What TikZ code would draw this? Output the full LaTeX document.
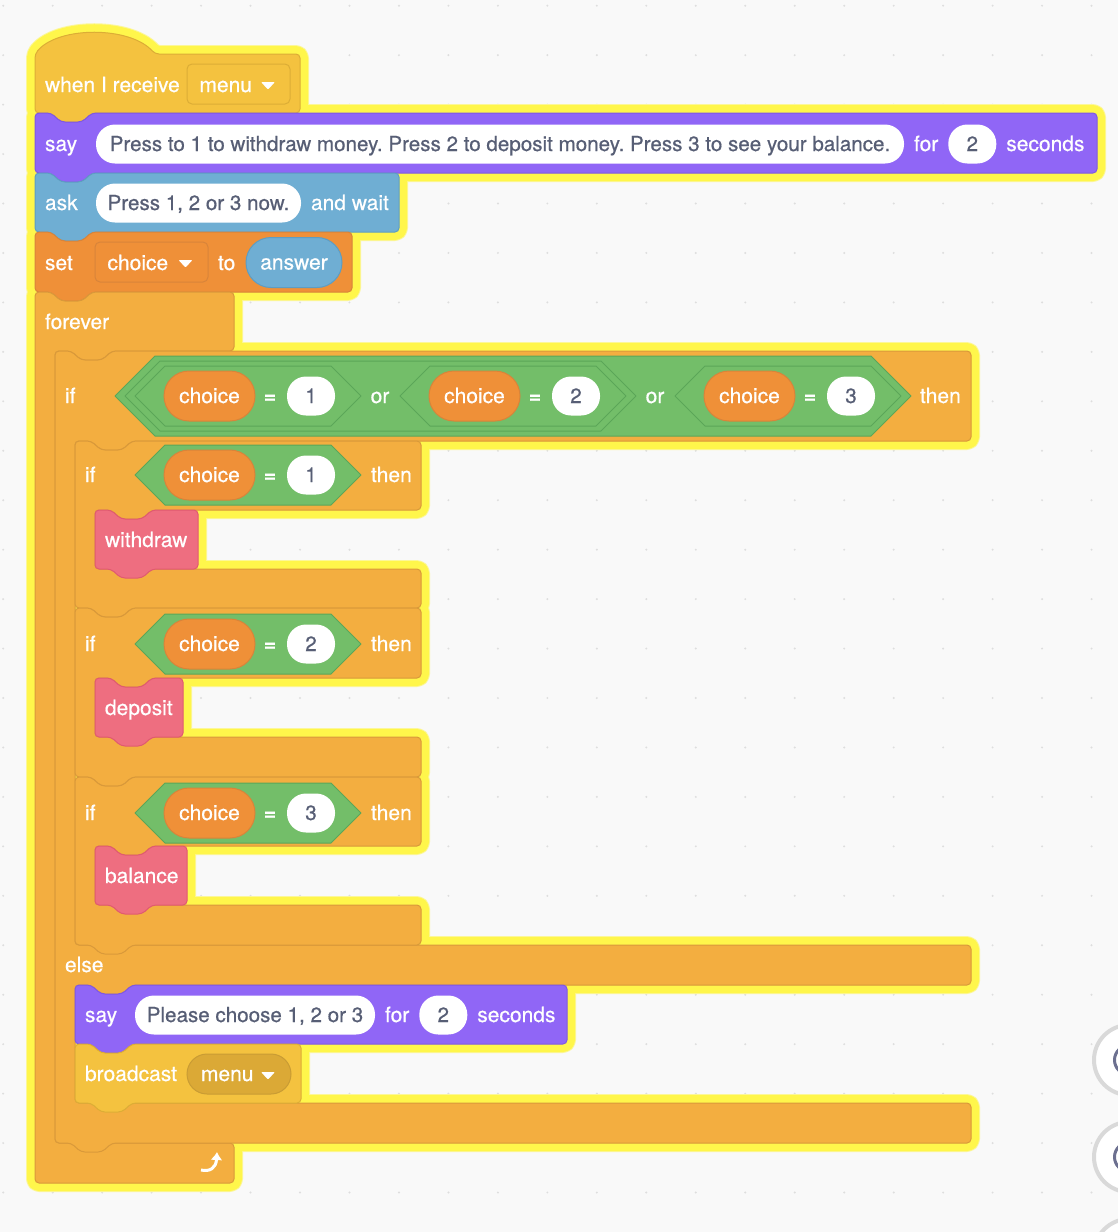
\documentclass[tikz,border=0pt]{standalone}
\usepackage{fontspec}
\setmainfont[FakeBold=0.55]{TeX Gyre Heros}
\frenchspacing
\usetikzlibrary{positioning,arrows.meta}

\definecolor{sheet}{HTML}{F9F9F9}
\definecolor{griddot}{HTML}{DEDEDE}
\definecolor{ringgray}{HTML}{D9D9D9}
\definecolor{ringicon}{HTML}{6C7090}
\definecolor{glow}{HTML}{FFF64B}
\definecolor{inktext}{HTML}{575E75}
\definecolor{hat}{HTML}{F4C23F}
\definecolor{hatline}{HTML}{DCAD36}
\definecolor{looks}{HTML}{9066F6}
\definecolor{looksline}{HTML}{7F58E2}
\definecolor{sensing}{HTML}{6FAED3}
\definecolor{sensingline}{HTML}{5E9DC2}
\definecolor{vars}{HTML}{EF9038}
\definecolor{varsline}{HTML}{D8843A}
\definecolor{control}{HTML}{F3AE40}
\definecolor{controlline}{HTML}{D9993A}
\definecolor{myblock}{HTML}{EE6E80}
\definecolor{myblockline}{HTML}{E05A70}
\definecolor{oper}{HTML}{73BE69}
\definecolor{operline}{HTML}{5BA658}
\definecolor{menupill}{HTML}{DBA936}
\definecolor{menupillline}{HTML}{C99C34}

% Notch on a top edge, tab on a bottom edge
\newcommand{\notchat}[2]{-- ({#1+16},#2) -- ({#1+26},{#2+9}) -- ({#1+47},{#2+9}) -- ({#1+57},#2)}
\newcommand{\tabat}[2]{-- ({#1+57},#2) -- ({#1+47},{#2+9}) -- ({#1+26},{#2+9}) -- ({#1+16},#2)}
\newcommand{\stackpath}[4]{(#1,#2) \notchat{#1}{#2} -- (#3,#2) -- (#3,#4) \tabat{#1}{#4} -- (#1,#4) -- cycle}
\newcommand{\ifpath}[4]{(75,#1) \notchat{75}{#1} -- (421,#1) -- (421,#2) \tabat{95}{#2} -- (95,#2) -- (95,#3) -- (421,#3) -- (421,#4) \tabat{75}{#4} -- (75,#4) -- cycle}

% The whole stack of blocks, drawn once for the glow and once for the faces
\newcommand{\blockstack}{
	\path[blk=hat] (35,113) -- (35,54) .. controls (58,26) and (130,26) .. (155,54) -- (300,54) -- (300,113) \tabat{35}{113} -- cycle;
	\path[blk=looks] \stackpath{35}{113}{1097}{173};
	\path[blk=sensing] \stackpath{35}{173}{399}{232};
	\path[blk=vars] \stackpath{35}{232}{352}{292};
	\path[blk=control] (35,292) \notchat{35}{292} -- (234,292) -- (234,351) \tabat{55}{351} -- (55,351) -- (55,1143) -- (234,1143) -- (234,1183) -- (35,1183) -- cycle;
	\path[blk=control] (55,351) \notchat{55}{351} -- (971,351) -- (971,441) \tabat{75}{441} -- (75,441) -- (75,945) -- (971,945) -- (971,985) \tabat{75}{985} -- (75,985) -- (75,1103) -- (971,1103) -- (971,1143) \tabat{55}{1143} -- (55,1143) -- cycle;
	\path[blk=control] \ifpath{441}{510}{569}{608};
	\path[blk=control] \ifpath{608}{678}{737}{777};
	\path[blk=control] \ifpath{777}{846}{905}{945};
	\path[blk=myblock] \stackpath{95}{510}{198}{569};
	\path[blk=myblock] \stackpath{95}{678}{183}{737};
	\path[blk=myblock] \stackpath{95}{846}{187}{905};
	\path[blk=looks] \stackpath{75}{985}{567}{1044};
	\path[blk=hat] \stackpath{75}{1044}{301}{1103};
}
% Green hexagon: left tip, right tip, centre y, half height
\newcommand{\hexpath}[4]{(#1,#3) -- ({#1+#4},{#3-#4}) -- ({#2-#4},{#3-#4}) -- (#2,#3) -- ({#2-#4},{#3+#4}) -- ({#1+#4},{#3+#4}) -- cycle}
% One choice = n test
\newcommand{\choicetest}[4]{
	\path[condhex] \hexpath{#2}{#2+226}{#3}{30};
	\node[varpill] (#1var) at ({#2+74.5},#3) {choice};
	\node[blocktext,font=\fontsize{21}{24}\selectfont\bfseries] (#1eq) at ({#2+135},#3) {=};
	\node[numpill] (#1num) at ({#2+176},#3) {#4};
}
\newcommand{\dropmark}[2]{\fill[white,rounded corners=1pt] ({#1-7},{#2-3.5}) -- ({#1+7},{#2-3.5}) -- (#1,{#2+4}) -- cycle;}

\begin{document}
\begin{tikzpicture}[x=1pt,y=-1pt]

	% Styles for the blocks and the things on them
	\tikzstyle{blocktext}=[text=white,inner sep=0pt,outer sep=0pt,font=\fontsize{21}{24}\selectfont,text height=18pt,text depth=4pt]
	\tikzstyle{inputpill}=[blocktext,text=inktext,font=\fontsize{20.6}{24}\selectfont,fill=white,minimum height=39pt,rounded corners=19pt]
	\tikzstyle{numpill}=[inputpill,minimum width=48pt]
	\tikzstyle{dropbox}=[draw=hatline,line width=1pt,minimum height=40pt,rounded corners=5pt]
	\tikzstyle{varpill}=[blocktext,fill=vars,draw=varsline,line width=1pt,minimum width=91pt,minimum height=50pt,rounded corners=25pt]
	\tikzstyle{condhex}=[fill=oper,draw=operline,line width=1pt,line join=round]
	\tikzstyle{zoomring}=[circle,fill=white,draw=ringgray,line width=4pt,minimum size=70pt,inner sep=0pt]
	\tikzset{blockshape/.style={rounded corners=4pt,line join=round}}

	\path[use as bounding box,clip] (0,0) rectangle (1118,1232);
	\fill[sheet] (0,0) rectangle (1118,1232);

	% Dots of the workspace
	\foreach \i in {0,...,22}
		\foreach \j in {0,...,24}
			\fill[griddot] ({3.2+49.47*\i},{5.7+49.45*\j}) circle (1.1pt);

	% Zoom buttons, cut off at the edge
	\foreach \y/\name in {1060/zoomin,1157/zoomout,1254/zoomreset} {
		\node[zoomring] (\name) at (1129,\y) {};
	}
	\draw[ringicon,line width=3pt] (1129,1060) circle (14.5pt);
	\draw[ringicon,line width=3pt] (1129,1157) circle (14.5pt);

	% Soft edge, then glow, then faces
	\tikzset{blk/.style={blockshape,draw=glow!55!sheet,fill=glow!55!sheet,line width=18pt}}
	\blockstack
	\tikzset{blk/.style={blockshape,draw=glow,fill=glow,line width=16pt}}
	\blockstack
	\tikzset{blk/.style={blockshape,fill=#1,draw=#1line,line width=1pt}}
	\blockstack

	% when I receive
	\node[blocktext,anchor=west] (whenlabel) at (45,85) {when I receive};
	\node[dropbox,minimum width=103pt] (whenmenu) at (238.5,84) {};
	\node[blocktext,right=13pt of whenmenu.west,yshift=-1pt] (whenmenutext) {menu};
	\dropmark{268}{85.5}

	% say for seconds
	\node[blocktext,anchor=west] (saylabel) at (45,144) {say};
	\node[inputpill,minimum width=808pt] (saytext) at (500,144) {Press to 1 to withdraw money. Press 2 to deposit money. Press 3 to see your balance.};
	\node[blocktext,right=10pt of saytext] (sayfor) {for};
	\node[numpill,right=10pt of sayfor] (saysecs) {2};
	\node[blocktext,right=10pt of saysecs] (sayunit) {seconds};

	% ask and wait
	\node[blocktext,anchor=west] (asklabel) at (45,203) {ask};
	\node[inputpill,minimum width=205pt] (asktext) at (198.5,203) {Press 1, 2 or 3 now.};
	\node[blocktext,right=10pt of asktext] (askwait) {and wait};

	% set choice to answer
	\node[blocktext,anchor=west] (setlabel) at (45,263) {set};
	\node[dropbox,draw=varsline,minimum width=113pt] (setmenu) at (151.5,262) {};
	\node[blocktext,right=13pt of setmenu.west,yshift=-1pt] (setmenutext) {choice};
	\dropmark{185.5}{263.5}
	\node[blocktext,anchor=west] (setto) at (218,263) {to};
	\node[varpill,fill=sensing,draw=sensingline,minimum width=96pt] (setanswer) at (294,262.5) {answer};

	\node[blocktext,anchor=west] (foreverlabel) at (45,322) {forever};

	% Outer if with the or of or
	\node[blocktext,anchor=west] (outerif) at (65,396) {if};
	\path[condhex] \hexpath{115}{911}{396}{40};
	\path[condhex] \hexpath{125}{636}{396}{35};
	\choicetest{outerone}{135}{396}{1}
	\node[blocktext] (orinner) at (380,396) {or};
	\choicetest{outertwo}{400}{396}{2}
	\node[blocktext] (orouter) at (655,396) {or};
	\choicetest{outerthree}{675}{396}{3}
	\node[blocktext,anchor=west] (outerthen) at (920,396) {then};

	% The three inner ifs
	\node[blocktext,anchor=west] (ifone) at (85,475) {if};
	\choicetest{testone}{135}{475}{1}
	\node[blocktext,anchor=west] (thenone) at (371,475) {then};
	\node[blocktext,anchor=west] (withdrawlabel) at (105,540) {withdraw};

	\node[blocktext,anchor=west] (iftwo) at (85,644) {if};
	\choicetest{testtwo}{135}{644}{2}
	\node[blocktext,anchor=west] (thentwo) at (371,644) {then};
	\node[blocktext,anchor=west] (depositlabel) at (105,708) {deposit};

	\node[blocktext,anchor=west] (ifthree) at (85,813) {if};
	\choicetest{testthree}{135}{813}{3}
	\node[blocktext,anchor=west] (thenthree) at (371,813) {then};
	\node[blocktext,anchor=west] (balancelabel) at (105,876) {balance};

	% else branch
	\node[blocktext,anchor=west] (elselabel) at (65,965) {else};
	\node[blocktext,anchor=west] (saylabeltwo) at (85,1015) {say};
	\node[inputpill,minimum width=240pt] (saytexttwo) at (255,1015) {Please choose 1, 2 or 3};
	\node[blocktext,right=10pt of saytexttwo] (sayfortwo) {for};
	\node[numpill,right=10pt of sayfortwo] (saysecstwo) {2};
	\node[blocktext,right=10pt of saysecstwo] (sayunittwo) {seconds};

	\node[blocktext,anchor=west] (broadcastlabel) at (85,1074) {broadcast};
	\node[varpill,fill=menupill,draw=menupillline,minimum width=104pt,minimum height=40pt,rounded corners=20pt] (broadcastmenu) at (239,1074) {};
	\node[blocktext,right=14pt of broadcastmenu.west] (broadcastmenutext) {menu};
	\dropmark{268}{1075.5}

	% Loop arrow of forever
	\coordinate (looptail) at (201,1170);
	\coordinate (loophead) at (217,1152);
	\draw[white,line width=3pt,-{Latex[length=8pt,width=12pt]}] (looptail) .. controls (210,1172) and (216,1168) .. (loophead);

\end{tikzpicture}
\end{document}
